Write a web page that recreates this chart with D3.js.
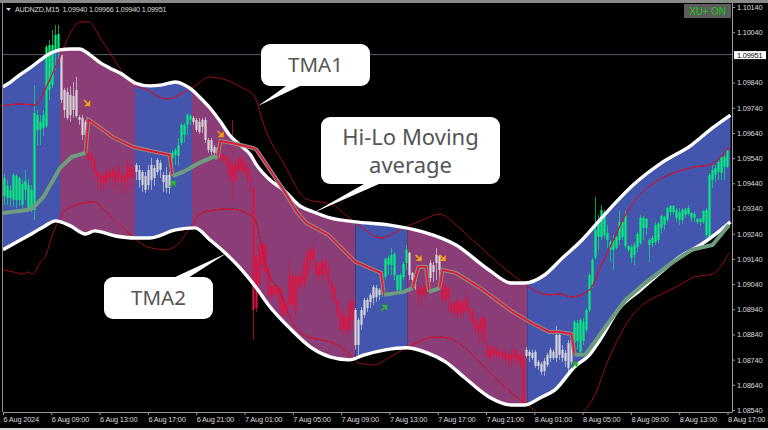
<!DOCTYPE html>
<html>
<head>
<meta charset="utf-8">
<title>AUDNZD,M15</title>
<script src="https://cdnjs.cloudflare.com/ajax/libs/d3/7.8.5/d3.min.js"></script>
<style>
  html, body { margin: 0; padding: 0; background: #000; overflow: hidden; }
  .canvas { width: 768px; height: 430px; }
  svg { display: block; font-family: "Liberation Sans", Arial, sans-serif; letter-spacing: -0.2px; }
  .callout { font-family: "Noto Sans", sans-serif; fill: #555; text-anchor: middle; letter-spacing: 0; }
</style>
</head>
<body>
<div class="canvas"></div>
<script>
// prices are in points, 109951 means 1.09951
const title = 'AUDNZD,M15  1.09940 1.09966 1.09940 1.09951'
const lastPrice = 109951

// 1.09940 sits behind the last price tag so it is left out
const priceTicks = [110140, 110040, 109840, 109740, 109640, 109540, 109440, 109340, 109240,
    109140, 109040, 108940, 108840, 108740, 108640, 108540]

const timeLabels = ['6 Aug 2024', '6 Aug 09:00', '6 Aug 13:00', '6 Aug 17:00', '6 Aug 21:00', '7 Aug 01:00',
    '7 Aug 05:00', '7 Aug 09:00', '7 Aug 13:00', '7 Aug 17:00', '7 Aug 21:00', '8 Aug 01:00',
    '8 Aug 05:00', '8 Aug 09:00', '8 Aug 13:00', '8 Aug 17:00']
const timeTickBars = [-0.5, 15.6, 31.7, 47.8, 63.9, 80, 96.1, 112.2, 128.3, 144.4, 160.5, 176.6,
    192.7, 208.8, 224.9, 241]

// candles, one value per M15 bar
const candleHigh = [109477,109453,109433,109481,109477,109465,109453,109493,109457,109433,
    109830,109731,109711,109731,109989,110009,110049,110069,110069,109962,
    109819,109819,109823,109842,109862,109711,109711,109692,109565,109565,
    109545,109493,109485,109485,109513,109493,109501,109493,109513,109485,
    109485,109533,109533,109513,109521,109513,109493,109485,109513,109541,
    109513,109541,109533,109485,109505,109485,109573,109581,109620,109680,
    109680,109719,109715,109707,109700,109700,109700,109703,109620,109620,
    109592,109584,109553,109561,109553,109541,109692,109533,109545,109553,
    109533,109513,109493,109422,109156,109203,109203,109203,109116,109036,
    109044,109036,109036,108997,108977,109136,109088,109076,109096,109088,
    109144,109176,109183,109203,109136,109128,109136,109144,109116,109056,
    109036,108985,108945,108937,108917,108977,108985,108945,108906,108949,
    108985,108985,109005,109036,109036,109024,109064,109144,109152,109183,
    109168,109076,109084,109128,109195,109168,109088,109076,109036,109036,
    109036,109076,109136,109128,109183,109156,109056,109036,109036,108977,
    108969,108985,108977,108977,109017,108949,108945,108906,108890,108913,
    108913,108806,108798,108798,108790,108779,108787,108779,108771,108779,
    108787,108779,108771,108767,108790,108779,108779,108779,108739,108731,
    108747,108767,108787,108779,108874,108858,108798,108779,108818,108838,
    108898,108898,108906,108906,108945,109084,109144,109386,109315,109354,
    109334,109275,109215,109235,109231,109334,109295,109330,109195,109195,
    109207,109247,109315,109311,109303,109223,109231,109287,109287,109315,
    109311,109346,109354,109354,109342,109342,109342,109342,109354,109326,
    109326,109303,109303,109334,109342,109481,109513,109513,109533,109553,
    109553,109573]
const candleBodyTop = [109461,109430,109414,109473,109469,109461,109437,109449,109433,109414,
    109719,109711,109684,109711,109981,109989,109989,110029,110033,109950,
    109811,109803,109791,109787,109811,109703,109700,109684,109561,109553,
    109533,109485,109473,109469,109485,109481,109493,109485,109509,109477,
    109473,109513,109501,109493,109513,109493,109485,109469,109493,109513,
    109501,109533,109521,109473,109473,109473,109561,109573,109592,109672,
    109672,109711,109707,109700,109692,109684,109692,109692,109612,109612,
    109584,109581,109553,109553,109545,109525,109513,109513,109537,109541,
    109525,109501,109461,109422,109148,109195,109195,109195,109104,109029,
    109032,109029,109024,108985,108957,109076,109076,109068,109068,109076,
    109128,109168,109176,109176,109128,109116,109128,109136,109104,109048,
    109024,108977,108925,108917,108906,108965,108977,108937,108898,108937,
    108977,108977,108997,109029,109024,109017,109056,109140,109144,109156,
    109160,109076,109076,109120,109176,109164,109084,109076,109029,109024,
    109029,109068,109124,109116,109156,109152,109048,109029,109024,108965,
    108961,108977,108969,108969,108989,108941,108929,108898,108878,108906,
    108906,108798,108779,108790,108779,108771,108771,108763,108755,108763,
    108779,108763,108755,108759,108779,108771,108767,108771,108731,108723,
    108735,108759,108779,108771,108838,108838,108779,108767,108806,108818,
    108890,108886,108898,108890,108937,109076,109136,109255,109295,109334,
    109326,109243,109207,109215,109227,109287,109287,109315,109191,109187,
    109195,109239,109303,109303,109299,109215,109223,109275,109279,109311,
    109307,109342,109350,109350,109334,109326,109334,109338,109342,109322,
    109318,109299,109299,109330,109334,109473,109493,109501,109525,109545,
    109545,109569]
const candleBodyBottom = [109390,109382,109382,109374,109374,109374,109354,109414,109342,109342,
    109334,109652,109652,109660,109668,109811,109830,109970,109970,109771,
    109731,109700,109711,109731,109707,109692,109632,109632,109533,109533,
    109485,109469,109445,109437,109445,109461,109461,109445,109473,109445,
    109445,109461,109461,109465,109485,109453,109433,109414,109433,109453,
    109461,109485,109493,109445,109422,109422,109541,109553,109549,109600,
    109632,109672,109692,109684,109652,109644,109664,109612,109573,109565,
    109561,109553,109541,109533,109513,109473,109449,109453,109493,109493,
    109485,109461,109445,108937,108945,109044,109116,109088,108997,108997,
    108997,109005,108937,108917,108929,108957,108957,108937,109036,109036,
    109044,109076,109136,109136,109076,109076,109076,109096,109056,109009,
    108977,108925,108858,108858,108858,108858,108898,108798,108798,108878,
    108917,108945,108969,108985,108989,108997,108997,109068,109116,109116,
    109076,109017,109017,109068,109124,109076,109056,109048,108997,108997,
    108997,109017,109064,109088,109124,109096,108977,108977,108985,108933,
    108925,108925,108925,108929,108937,108925,108886,108866,108850,108858,
    108810,108751,108747,108759,108759,108755,108747,108743,108739,108735,
    108747,108739,108727,108568,108755,108755,108747,108715,108715,108691,
    108695,108719,108747,108747,108747,108759,108747,108735,108707,108731,
    108806,108814,108771,108814,108858,108937,109036,109144,109227,109227,
    109235,109215,109176,109176,109183,109215,109227,109191,109176,109144,
    109156,109187,109203,109263,109263,109195,109203,109207,109215,109263,
    109275,109295,109326,109326,109303,109295,109295,109315,109318,109303,
    109303,109287,109287,109287,109235,109223,109453,109473,109485,109481,
    109505,109505]
const candleLow = [109354,109354,109346,109346,109342,109350,109342,109374,109326,109326,
    109295,109592,109592,109628,109660,109771,109819,109890,109930,109759,
    109700,109692,109684,109700,109700,109672,109612,109620,109513,109501,
    109461,109414,109414,109402,109414,109433,109422,109414,109430,109394,
    109394,109414,109422,109430,109453,109422,109406,109402,109414,109414,
    109430,109473,109461,109406,109402,109398,109493,109513,109509,109592,
    109604,109632,109672,109672,109644,109636,109640,109600,109561,109553,
    109549,109545,109525,109521,109485,109445,109362,109441,109485,109473,
    109473,109445,109406,108818,108929,109017,109096,109064,108985,108977,
    108977,108977,108906,108898,108906,108945,108937,108906,109009,109017,
    109024,109056,109096,109104,109048,109056,109056,109064,109036,108977,
    108957,108906,108850,108838,108846,108838,108858,108779,108755,108858,
    108906,108929,108945,108957,108969,108977,108989,109056,109076,109076,
    109056,109013,109013,109056,109096,109056,109048,109017,108957,108945,
    108977,108997,109048,109048,109056,109036,108965,108957,108929,108917,
    108913,108906,108913,108906,108929,108898,108878,108838,108798,108818,
    108798,108747,108731,108731,108731,108747,108735,108715,108719,108707,
    108719,108711,108707,108564,108747,108731,108739,108707,108699,108679,
    108675,108711,108731,108739,108731,108739,108731,108711,108691,108719,
    108779,108779,108759,108798,108850,108929,109024,109136,109176,109215,
    109223,109183,109128,109096,109176,109195,109215,109183,109168,109124,
    109116,109168,109195,109215,109235,109128,109187,109195,109203,109243,
    109255,109287,109311,109315,109287,109275,109279,109303,109311,109287,
    109287,109279,109271,109279,109215,109215,109422,109445,109453,109453,
    109453,109501]

// candle colour runs
const candleRunLengths = [19, 9, 16, 12, 7, 9, 45, 9, 9, 3, 4, 4, 28, 16, 52]
const candleRunKinds = ['up', 'mid', 'down', 'mid', 'up', 'mid', 'down', 'mid', 'up', 'mid', 'down', 'mid', 'down', 'mid', 'up']

// band zones, bar where the colour starts
const zoneStarts = [-0.5, 18.5, 43.5, 62.5, 117, 134.25, 174.25]
const zoneEnds = [18.5, 43.5, 62.5, 117, 134.25, 174.25, 242]
const zoneKinds = ['blue', 'purple', 'blue', 'purple', 'blue', 'purple', 'blue']

// TMA1 and TMA2, [bar, price]
const tmaUpper = [[-0.5,109823],[2,109842],[5,109870],[8.5,109898],[12,109930],[15,109954],[18.5,109970],[22,109973],
    [25,109973],[28.5,109950],[32,109918],[35,109898],[38.5,109878],[42,109850],[43.5,109838],[48.5,109827],
    [52,109830],[57,109842],[60,109830],[62.5,109811],[65,109783],[68.5,109739],[72,109684],[75,109632],
    [78.5,109592],[82,109553],[84,109513],[88.5,109453],[93,109414],[98.5,109350],[103,109326],[108.5,109303],
    [117,109287],[128,109275],[139.5,109247],[150.5,109195],[161.5,109096],[169,109044],[173.5,109044],[180,109076],
    [186,109144],[192.5,109215],[198.5,109295],[200,109315],[210,109438],[219,109521],[229,109592],[236,109660],[242,109711]]
const tmaLower = [[-0.5,109176],[3.5,109203],[9.5,109243],[13.5,109271],[17,109291],[22,109271],[27,109239],[30,109251],
    [37,109231],[43.5,109223],[48.5,109223],[57,109255],[63.5,109263],[68.5,109215],[73.5,109164],[78.5,109104],
    [84,109024],[88,108957],[95,108866],[102,108790],[108.5,108751],[115,108739],[120,108759],[127,108779],
    [134,108787],[140,108771],[147,108731],[153.5,108667],[161.5,108592],[169,108560],[173.5,108560],[178.5,108588],
    [183.5,108620],[190,108711],[195,108759],[198.5,108818],[205,108945],[212,109017],[218.5,109084],[225,109148],
    [232,109195],[238,109247],[242,109287]]

// thin red envelopes, [bar, price]
const envelopeUpper = [[-0.5,109747],[5,109755],[10,109751],[11,109759],[15,109850],[18.5,109942],[22,110037],[25,110081],
    [28,110081],[32,110017],[36,109942],[42,109842],[47.5,109811],[54,109775],[59.5,109799],[64,109830],
    [68,109862],[74,109850],[78.5,109823],[83,109791],[87,109652],[93,109521],[100.5,109378],[109.5,109354],
    [113,109322],[118,109275],[125.5,109223],[133,109263],[139.5,109295],[145,109318],[150.5,109275],[156,109215],
    [161.5,109156],[169,109080],[181.5,108997],[185,109001],[189,108989],[195,109017],[199,109116],[202.5,109203],
    [207.5,109326],[213.5,109414],[218,109453],[224,109485],[230,109505],[235,109513],[241.5,109584]]
const envelopeLower = [[-0.5,109096],[3,109088],[6,109080],[8,109088],[9.5,109080],[12,109128],[13.5,109148],[16,109235],
    [18.5,109303],[19.5,109322],[24,109354],[29.5,109366],[35,109315],[39.5,109263],[44,109215],[47.5,109188],
    [54,109176],[57.5,109195],[62,109267],[65,109315],[67.5,109330],[75,109338],[80.5,109322],[83.5,109295],
    [87.5,109096],[92,109005],[95,108910],[101,108830],[106,108818],[111,108798],[116,108751],[118,108727],
    [123,108719],[128,108747],[131.5,108771],[134.5,108790],[144,108830],[148,108826],[155,108771],[161.5,108691],
    [169,108608],[178,108528],[185,108461],[193,108532],[196.5,108592],[201,108731],[207.5,108886],[213.5,108965],
    [218.5,108997],[225,109036],[230,109068],[236,109080],[241.5,109164]]

// Hi-Lo moving average, it flips between support and resistance
const hiLoSupport = [
    [[-0.5,109322],[7.5,109334],[9.5,109342],[13,109386],[18.5,109501],[22.5,109545],[27,109561]],
    [[56,109469],[59.5,109485],[65,109521],[69.5,109545],[71,109541]],
    [[126.5,108997],[133,109009],[136,109024]],
    [[141.5,109009],[145,109024]],
    [[190,108759],[193.5,108759],[196.5,108806],[201.5,108890],[207,108977],[213.5,109044],[221.5,109116],[229,109176],[236,109195],[241.5,109275]]
]
const hiLoResistance = [
    [[27,109561],[28,109692],[32,109660],[36,109624],[43,109584],[48.5,109569],[55,109553],[56,109469]],
    [[71,109541],[72,109608],[76,109600],[83,109580],[84,109573],[93,109414],[97.5,109326],[100.5,109283],[108,109235],[117,109128],[125.5,109084],[126.5,108997]],
    [[136,109024],[138,109108],[140.5,109108],[141.5,109009]],
    [[145,109024],[146,109096],[150.5,109084],[159.5,109017],[169,108933],[175,108890],[181.5,108850],[185,108850],[189,108842],[190,108759]]
]

// signal arrows, [bar, price]
const signalsDown = [[27.5,109759],[72,109636],[138,109144],[146,109144]]
const signalsUp = [[56,109437],[126.5,108945],[190,108719]]

const colors = {
    blue: '#4355ad', purple: '#8b3d78',
    up: '#06ec7c', mid: '#d6d4d8', down: '#dc1440'
}

const width = 768
const height = 430
const margin = { top: 3, right: 36, bottom: 18, left: 3 }

const svg = d3.select('.canvas')
    .append('svg')
    .attr('width', width)
    .attr('height', height)

// scales
const x = d3.scaleLinear()
    .domain([-0.5, 242.5])
    .range([margin.left, width - margin.right])
const y = d3.scaleLinear()
    .domain([108540, 110140])
    .range([410, 7])

const defs = svg.append('defs')
defs.append('clipPath').attr('id', 'plot')
    .append('rect')
    .attr('x', margin.left)
    .attr('y', margin.top)
    .attr('width', width - margin.left - margin.right)
    .attr('height', height - margin.top - margin.bottom - 1)

const graph = svg.append('g').attr('clip-path', 'url(#plot)')

// window frame
svg.append('rect').attr('width', width).attr('height', 3).attr('fill', '#8a8a8a')
svg.append('rect').attr('x', 2).attr('y', 3).attr('width', 1).attr('height', 409).attr('fill', '#8a8a8a')
svg.append('rect').attr('y', 428).attr('width', width).attr('height', 2).attr('fill', '#d8d8d8')

// current price line goes behind the band
graph.append('line')
    .attr('x1', margin.left)
    .attr('x2', width - margin.right)
    .attr('y1', y(lastPrice))
    .attr('y2', y(lastPrice))
    .attr('stroke', '#56606c')
    .attr('stroke-width', 1)

// the band is sampled on every bar so it can be cut into zones
const upperAt = d3.scaleLinear().domain(tmaUpper.map(d => d[0])).range(tmaUpper.map(d => d[1]))
const lowerAt = d3.scaleLinear().domain(tmaLower.map(d => d[0])).range(tmaLower.map(d => d[1]))

const bandArea = d3.area()
    .x(d => x(d))
    .y0(d => y(lowerAt(d)))
    .y1(d => y(upperAt(d)))

zoneKinds.forEach((kind, i) => {
    const stops = [zoneStarts[i],
        ...tmaUpper.map(d => d[0]).concat(tmaLower.map(d => d[0])).filter(b => b > zoneStarts[i] && b < zoneEnds[i]).sort((a, b) => a - b),
        zoneEnds[i]]
    graph.append('path')
        .attr('d', bandArea(stops))
        .attr('fill', colors[kind])
})

defs.append('clipPath').attr('id', 'band')
    .append('path')
    .attr('d', bandArea(tmaUpper.map(d => d[0]).concat(tmaLower.map(d => d[0])).sort((a, b) => a - b)))

// candles
const candleKinds = candleRunLengths.flatMap((n, i) => d3.range(n).map(() => candleRunKinds[i]))
const candles = candleHigh.map((h, i) => ({
    bar: i,
    high: h,
    top: candleBodyTop[i],
    bottom: candleBodyBottom[i],
    low: candleLow[i],
    kind: candleKinds[i]
}))

graph.selectAll('.wick')
    .data(candles)
    .enter().append('line')
    .attr('class', 'wick')
    .attr('x1', d => x(d.bar))
    .attr('x2', d => x(d.bar))
    .attr('y1', d => y(d.high))
    .attr('y2', d => y(d.low))
    .attr('stroke', d => colors[d.kind])
    .attr('stroke-width', 0.8)
    .attr('opacity', 0.85)

graph.selectAll('.body')
    .data(candles)
    .enter().append('rect')
    .attr('class', 'body')
    .attr('x', d => x(d.bar) - 1.1)
    .attr('width', 2.2)
    .attr('y', d => y(d.top))
    .attr('height', d => Math.max(y(d.bottom) - y(d.top), 1))
    .attr('fill', d => colors[d.kind])

// lines
const line = d3.line().x(d => x(d[0])).y(d => y(d[1]))
const smoothLine = d3.line().x(d => x(d[0])).y(d => y(d[1])).curve(d3.curveMonotoneX)

// thin envelopes, dark on black and brighter over the band
;[envelopeUpper, envelopeLower].forEach(points => {
    graph.append('path')
        .attr('d', smoothLine(points))
        .attr('fill', 'none')
        .attr('stroke', '#960c18')
        .attr('stroke-width', 1)
    graph.append('g').attr('clip-path', 'url(#band)')
        .append('path')
        .attr('d', smoothLine(points))
        .attr('fill', 'none')
        .attr('stroke', '#d8183c')
        .attr('stroke-width', 1)
})

// white TMA lines
;[tmaUpper, tmaLower].forEach(points => {
    graph.append('path')
        .attr('d', smoothLine(points))
        .attr('fill', 'none')
        .attr('stroke', '#fff')
        .attr('stroke-width', 3.4)
        .attr('stroke-linejoin', 'round')
})

// Hi-Lo
hiLoResistance.forEach(points => {
    graph.append('path')
        .attr('d', line(points))
        .attr('fill', 'none')
        .attr('stroke', '#8c8a80')
        .attr('stroke-width', 4)
    graph.append('path')
        .attr('d', line(points))
        .attr('fill', 'none')
        .attr('stroke', '#e8143c')
        .attr('stroke-width', 1.8)
})
hiLoSupport.forEach(points => {
    graph.append('path')
        .attr('d', line(points))
        .attr('fill', 'none')
        .attr('stroke', '#6d9c7e')
        .attr('stroke-width', 4)
})

// signal arrows
const arrow = 'M-3,-3 L1,1 M-1,2.5 L2.5,2.5 L2.5,-1 Z'
graph.selectAll('.down')
    .data(signalsDown)
    .enter().append('path')
    .attr('class', 'down')
    .attr('transform', d => `translate(${x(d[0])}, ${y(d[1])})`)
    .attr('d', arrow)
    .attr('fill', '#f5a010')
    .attr('stroke', '#f5a010')
    .attr('stroke-width', 1.5)
graph.selectAll('.up')
    .data(signalsUp)
    .enter().append('path')
    .attr('class', 'up')
    .attr('transform', d => `translate(${x(d[0])}, ${y(d[1])}) scale(1,-1)`)
    .attr('d', arrow)
    .attr('fill', '#28b828')
    .attr('stroke', '#28b828')
    .attr('stroke-width', 1.5)

// axes
const yAxis = d3.axisRight(y)
    .tickValues(priceTicks)
    .tickSize(3)
    .tickPadding(2)
    .tickFormat(d => (d / 100000).toFixed(5))
const xAxis = d3.axisBottom(x)
    .tickValues(timeTickBars)
    .tickSize(3)
    .tickPadding(2)
    .tickFormat((d, i) => timeLabels[i])

const yAxisGroup = svg.append('g')
    .attr('transform', `translate(${width - margin.right}, 0)`)
    .call(yAxis)
const xAxisGroup = svg.append('g')
    .attr('transform', `translate(0, ${height - margin.bottom})`)
    .call(xAxis)

yAxisGroup.select('.domain').attr('stroke', '#9a9a9a').attr('d', 'M0.5,3V412.5')
xAxisGroup.select('.domain').attr('stroke', '#9a9a9a').attr('d', `M3,0.5H${width - margin.right}`)
yAxisGroup.selectAll('line').attr('stroke', '#9a9a9a')
xAxisGroup.selectAll('line').attr('stroke', '#9a9a9a')
yAxisGroup.selectAll('text')
    .attr('fill', '#dcdcdc')
    .attr('font-size', 7.4)
    .attr('font-family', '"Liberation Sans", Arial, sans-serif')
xAxisGroup.selectAll('text')
    .attr('fill', '#dcdcdc')
    .attr('font-size', 7.4)
    .attr('font-family', '"Liberation Sans", Arial, sans-serif')
    .attr('text-anchor', 'start')

// last price tag
svg.append('rect')
    .attr('x', width - margin.right + 2)
    .attr('y', y(lastPrice) - 3.5)
    .attr('width', 32)
    .attr('height', 8)
    .attr('fill', '#fff')
svg.append('text')
    .attr('x', width - margin.right + 5)
    .attr('y', y(lastPrice) + 3)
    .attr('fill', '#000')
    .attr('font-size', 7.4)
    .text((lastPrice / 100000).toFixed(5))

// header
svg.append('path').attr('d', 'M6,8 H11 L8.5,11 Z').attr('fill', '#d4d4d4')
svg.append('text')
    .attr('x', 15)
    .attr('y', 12)
    .attr('fill', '#dcdcdc')
    .attr('font-size', 7.2)
    .attr('xml:space', 'preserve')
    .style('white-space', 'pre')
    .text(title)

// XU+ ON button
svg.append('rect')
    .attr('x', 684).attr('y', 4).attr('width', 47).attr('height', 14)
    .attr('fill', '#5c5c5c')
svg.append('text')
    .attr('x', 707.5).attr('y', 15)
    .attr('text-anchor', 'middle')
    .attr('fill', '#18c818')
    .attr('font-size', 10)
    .text('XU+ ON')

// callouts
const callout = (box, tail, lines, baselines, size) => {
    svg.append('rect')
        .attr('x', box.x).attr('y', box.y)
        .attr('width', box.w).attr('height', box.h)
        .attr('rx', 9)
        .attr('fill', '#fff')
    svg.append('path')
        .attr('d', d3.line()(tail) + 'Z')
        .attr('fill', '#fff')
    lines.forEach((t, i) => {
        svg.append('text')
            .attr('class', 'callout')
            .attr('x', box.x + box.w / 2)
            .attr('y', baselines[i])
            .attr('font-size', size)
            .text(t)
    })
}
callout({ x: 261, y: 44, w: 109, h: 42 }, [[286, 86], [300, 86], [258, 106]], ['TMA1'], [72], 20.5)
callout({ x: 321, y: 117, w: 179, h: 67 }, [[364, 184], [379, 184], [313, 213]], ['Hi-Lo Moving', 'average'], [145, 173], 22)
callout({ x: 104, y: 277, w: 109, h: 42 }, [[173, 278], [188, 278], [227, 253]], ['TMA2'], [305], 20.5)
</script>
</body>
</html>
